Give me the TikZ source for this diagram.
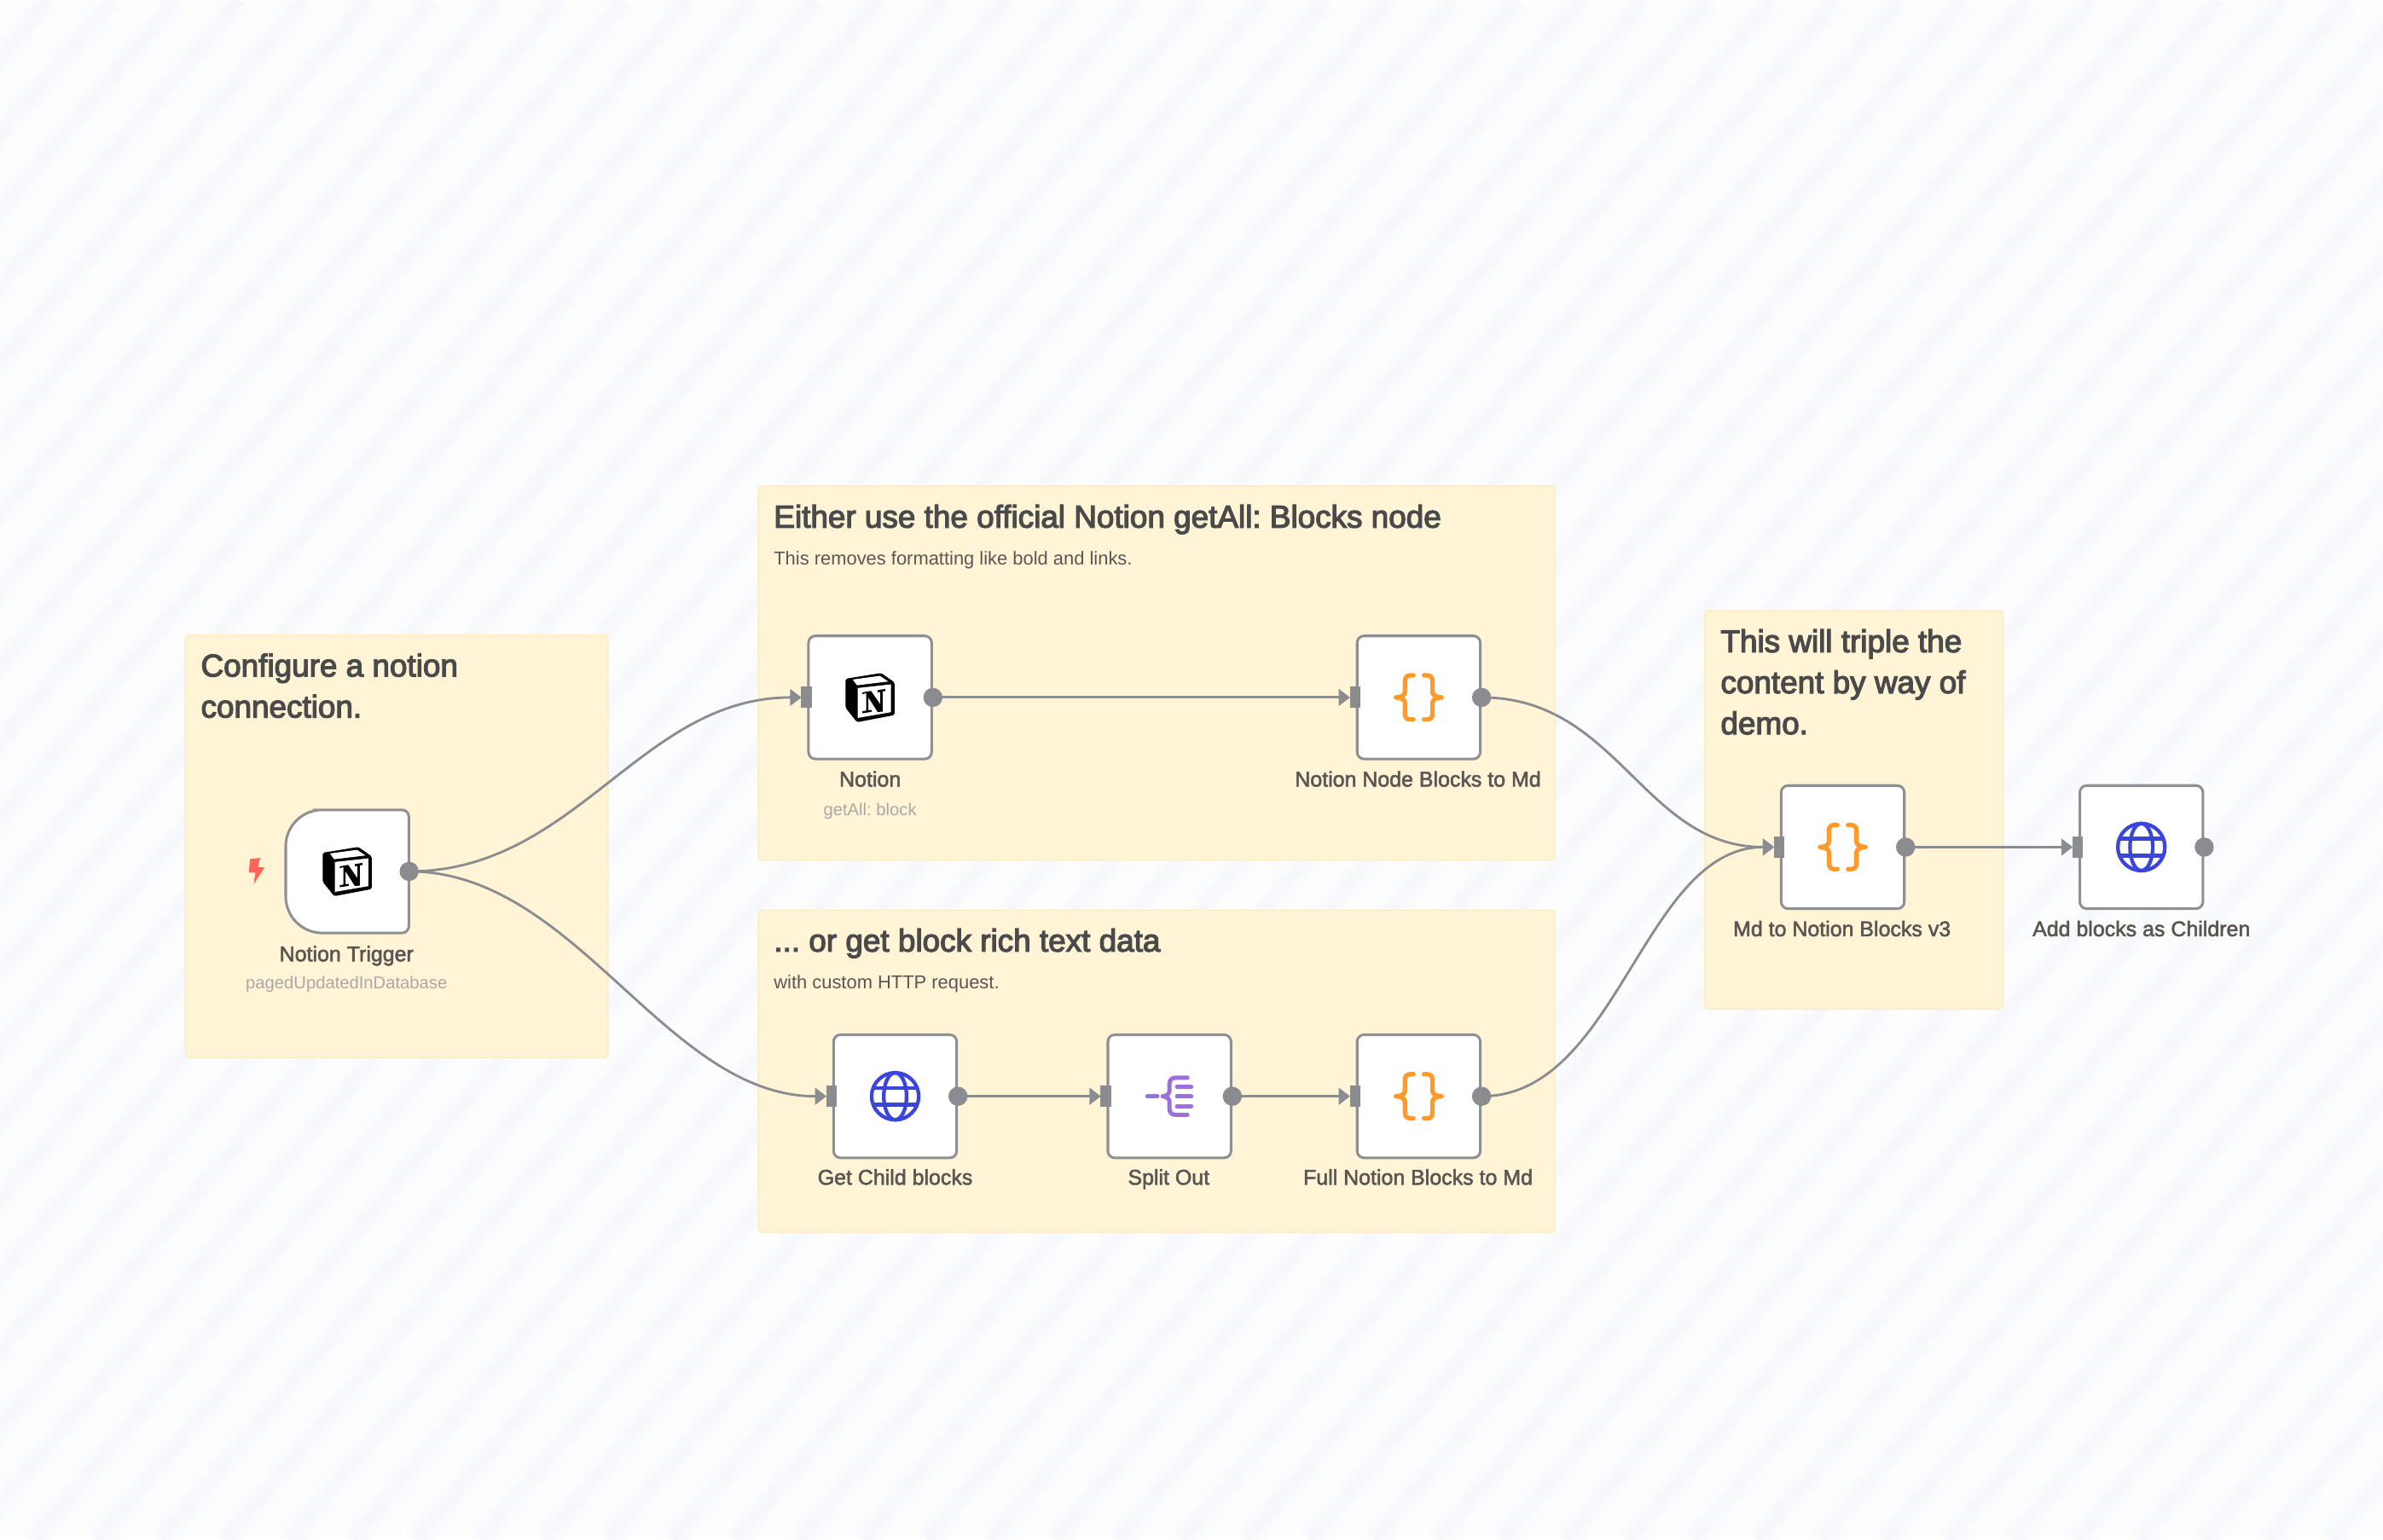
\documentclass[tikz,border=0pt]{standalone}
\usepackage{fontspec}
\setmainfont{Liberation Sans}
\newfontfamily\medfont[FakeBold=2.2]{Liberation Sans}
\newfontfamily\headfont[FakeBold=3.4]{Liberation Sans}
\usetikzlibrary{arrows.meta,calc}
\definecolor{stickfill}{HTML}{FFF4D6}
\definecolor{stickline}{HTML}{FCEFC8}
\definecolor{wire}{HTML}{8B8C90}
\definecolor{edgec}{HTML}{8F9094}
\definecolor{headc}{HTML}{4A4A4A}
\definecolor{labelc}{HTML}{5A5652}
\definecolor{subc}{HTML}{ABA9A6}
\definecolor{orangec}{HTML}{FF9A2A}
\definecolor{bluec}{HTML}{3B45DE}
\definecolor{purplec}{HTML}{9B6FDC}
\definecolor{boltc}{HTML}{FF6457}
\tikzset{
  sticky/.style={draw=stickline,fill=stickfill,line width=1.2pt,rounded corners=2.5pt,inner sep=0pt},
  box/.style={draw=edgec,fill=white,line width=1.7pt,rounded corners=4.5pt,minimum size=81pt,inner sep=0pt},
  ghost/.style={minimum size=81pt,inner sep=0pt},
  conn/.style={draw=wire,line width=1.6pt,shorten >=3.8pt,-{Triangle[length=7.5pt,width=11pt]}},
  head/.style={inner sep=0pt,text=headc,align=left,font=\frenchspacing\headfont\fontsize{20.7}{27}\selectfont},
  note/.style={inner sep=0pt,text=labelc,font=\frenchspacing\fontsize{12.3}{14}\selectfont},
  lab/.style={inner sep=0pt,text=labelc,font=\frenchspacing\medfont\fontsize{14}{16}\selectfont},
  sublab/.style={inner sep=0pt,text=subc,font=\frenchspacing\fontsize{11.35}{14}\selectfont},
}
\newcommand{\portin}[1]{\fill[wire] ($(#1.west)+(-4,-7)$) rectangle ($(#1.west)+(3,7)$);}
\newcommand{\portout}[1]{\fill[wire] (#1.east) circle (6.3pt);}
\newcommand{\iconnotion}[1]{\begin{scope}[shift={(#1)}]
  \fill[black,rounded corners=1pt] (-16.1,-12.3) -- (7.3,-16.1) -- (16.1,-9.9) -- (16.1,11.6) -- (-8.6,16.3) -- (-16.1,6.9) -- cycle;
  \fill[white] (-11.4,-11.8) -- (6.4,-14.2) -- (12,-10.5) -- (-8.6,-8) -- cycle;
  \fill[white] (-8.2,-6.2) -- (13.8,-8.6) -- (13.8,9.7) -- (-8.2,13.5) -- cycle;
  \fill[black] (-5,-3.3) -- (0.6,-4.3) -- (6.7,4.5) -- (6.7,-3.6) -- (5,-3.4) -- (5,-4.8) -- (10,-5.6) -- (10,-4.2) -- (8.2,-4) -- (8.2,9.3) -- (5,9.6) -- (-1.1,0) -- (-1.1,8.4) -- (1,8.2) -- (1,9.5) -- (-5,10.4) -- (-5,9.1) -- (-2.6,8.7) -- (-2.6,-2.8) -- (-5,-2.2) -- cycle;
\end{scope}}
\newcommand{\iconbraces}[1]{\begin{scope}[shift={(#1)},draw=orangec,line width=3pt,line cap=round,line join=round]
  \draw (-3.5,-14.5) -- (-5.5,-14.5) .. controls (-8,-14.5) and (-9,-13) .. (-9,-11) -- (-9,-4) .. controls (-9,-1.5) and (-11,-0.2) .. (-15,0) .. controls (-11,0.2) and (-9,1.5) .. (-9,4) -- (-9,11) .. controls (-9,13) and (-8,14.5) .. (-5.5,14.5) -- (-3.5,14.5);
  \draw (3.5,-14.5) -- (5.5,-14.5) .. controls (8,-14.5) and (9,-13) .. (9,-11) -- (9,-4) .. controls (9,-1.5) and (11,-0.2) .. (15,0) .. controls (11,0.2) and (9,1.5) .. (9,4) -- (9,11) .. controls (9,13) and (8,14.5) .. (5.5,14.5) -- (3.5,14.5);
\end{scope}}
\newcommand{\iconglobe}[1]{\begin{scope}[shift={(#1)},draw=bluec,line width=2.4pt]
  \draw (0,0) circle (15.5);
  \draw (0,0) ellipse (7.5 and 15.5);
  \draw (-14,-5.6) -- (14,-5.6);
  \draw (-14,5.6) -- (14,5.6);
\end{scope}}
\newcommand{\iconsplit}[1]{\begin{scope}[shift={(#1)},draw=purplec,line width=2.8pt,line cap=round,line join=round]
  \draw (-14.5,0) -- (-8,0);
  \draw (11.8,-12.2) -- (4,-12.2) .. controls (1.5,-12.2) and (0,-10.5) .. (0,-8.5) -- (0,-3.5) .. controls (0,-1.5) and (-2,-0.2) .. (-4.5,0) .. controls (-2,0.2) and (0,1.5) .. (0,3.5) -- (0,8.5) .. controls (0,10.5) and (1.5,12.2) .. (4,12.2) -- (11.8,12.2);
  \draw (5,-6.2) -- (14.3,-6.2);
  \draw (5,0) -- (14.3,0);
  \draw (5,6.4) -- (14.3,6.4);
\end{scope}}
\begin{document}
\begin{tikzpicture}[x=1pt,y=-1pt]
\useasboundingbox (0,0) rectangle (1568,1013);
% striped background
\begin{scope}
\clip (0,0) rectangle (1568,1013);
\fill[color={rgb,255:red,253;green,253;blue,254}] (0,0) rectangle (1568,1013);
\foreach \i in {0,...,60}{
  \pgfmathsetmacro{\xa}{\i*42-10}
  \draw[color={rgb,255:red,251;green,252;blue,254},line width=20pt] (\xa,0) -- ({\xa-850},1013);
  \draw[color={rgb,255:red,249;green,250;blue,253},line width=13pt] (\xa,0) -- ({\xa-850},1013);
  \draw[color={rgb,255:red,247;green,248;blue,252},line width=6pt] (\xa,0) -- ({\xa-850},1013);
}
\end{scope}
% sticky notes
\node[sticky,minimum width=278pt,minimum height=278pt] (s1) at (261,557) {};
\node[sticky,minimum width=524pt,minimum height=246pt] (s2) at (761,443) {};
\node[sticky,minimum width=524pt,minimum height=212pt] (s3) at (761,705) {};
\node[sticky,minimum width=196pt,minimum height=262pt] (s4) at (1220,533) {};
\node[head,anchor=north west] (t1) at (132,430) {Configure a notion\\connection.};
\node[head,anchor=north west] (t2) at (509,332) {Either use the official Notion getAll: Blocks node};
\node[note,anchor=mid west] (n2) at (509,369) {This removes formatting like bold and links.};
\node[head,anchor=north west] (t3) at (509,611) {... or get block rich text data};
\node[note,anchor=mid west] (n3) at (509,648) {with custom HTTP request.};
\node[head,anchor=north west] (t4) at (1132,414) {This will triple the\\content by way of\\demo.};
% workflow nodes
\node[ghost] (trigger) at (228.5,573.5) {};
\draw[draw=edgec,fill=white,line width=1.7pt] (230,533) [rounded corners=4.5pt] -- (269,533) -- (269,614) -- (230,614) [rounded corners=24pt] -- (188,614) -- (188,533) -- cycle;
\node[box] (notion) at (572.5,459) {};
\node[box] (mdone) at (933.5,459) {};
\node[box] (child) at (589,721.5) {};
\node[box] (split) at (769.5,721.5) {};
\node[box] (full) at (933.5,721.5) {};
\node[box] (mdnotion) at (1212.5,557.5) {};
\node[box] (addblocks) at (1409,557.5) {};
% connectors
\draw[conn] (trigger.east) .. controls +(110,0) and +(-110,0) .. (notion.west);
\draw[conn] (trigger.east) .. controls +(110,0) and +(-110,0) .. (child.west);
\draw[conn] (notion.east) -- (mdone.west);
\draw[conn] (child.east) -- (split.west);
\draw[conn] (split.east) -- (full.west);
\draw[conn] (mdone.east) .. controls +(90,0) and +(-90,0) .. (mdnotion.west);
\draw[conn] (full.east) .. controls +(90,0) and +(-90,0) .. (mdnotion.west);
\draw[conn] (mdnotion.east) -- (addblocks.west);
% ports
\foreach \n in {notion,mdone,child,split,full,mdnotion,addblocks}{\portin{\n}}
\foreach \n in {trigger,notion,mdone,child,split,full,mdnotion,addblocks}{\portout{\n}}
% icons
\fill[boltc,line join=round] (168,573) ++(-3.4,-7.7) -- ++(6.6,-0.7) -- ++(-1.5,6) -- ++(4.3,0.4) -- ++(-7.1,10.8) -- ++(1.1,-7.5) -- ++(-4.3,0) -- cycle;
\iconnotion{trigger.center}
\iconnotion{notion.center}
\iconbraces{mdone.center}
\iconglobe{child.center}
\iconsplit{split.center}
\iconbraces{full.center}
\iconbraces{mdnotion.center}
\iconglobe{addblocks.center}
% labels
\node[lab,anchor=mid] (l1) at (228,630) {Notion Trigger};
\node[sublab,anchor=mid] (l1b) at (228,648) {pagedUpdatedInDatabase};
\node[lab,anchor=mid] (l2) at (572.5,515) {Notion};
\node[sublab,anchor=mid] (l2b) at (572.5,534) {getAll: block};
\node[lab,anchor=mid] (l3) at (933,515) {Notion Node Blocks to Md};
\node[lab,anchor=mid] (l4) at (589,777) {Get Child blocks};
\node[lab,anchor=mid] (l5) at (769,777) {Split Out};
\node[lab,anchor=mid] (l6) at (933,777) {Full Notion Blocks to Md};
\node[lab,anchor=mid] (l7) at (1212,613.5) {Md to Notion Blocks v3};
\node[lab,anchor=mid] (l8) at (1409,613.5) {Add blocks as Children};
\end{tikzpicture}
\end{document}
